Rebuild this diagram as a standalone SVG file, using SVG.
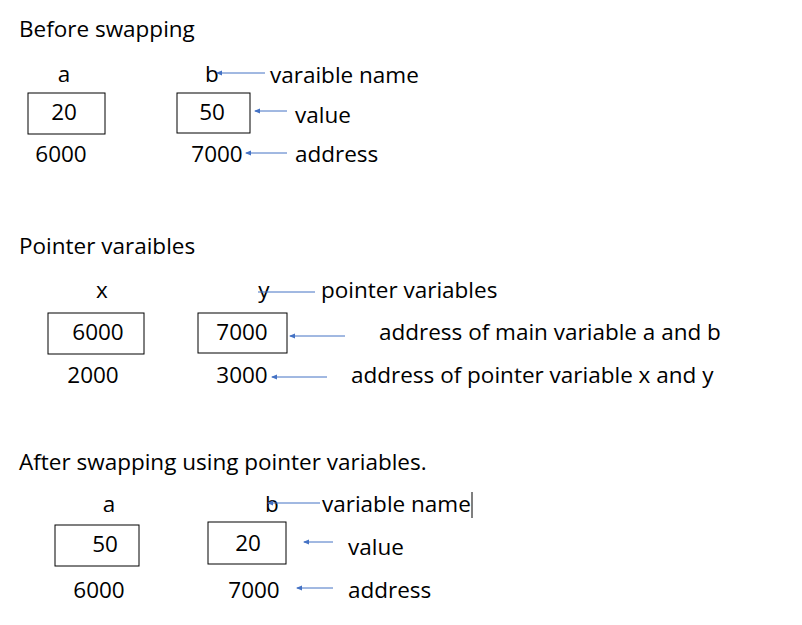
<svg xmlns="http://www.w3.org/2000/svg" width="802" height="625" viewBox="0 0 802 625">
<defs>
<marker id="ah" markerWidth="6" markerHeight="6" refX="5" refY="3" orient="auto" markerUnits="userSpaceOnUse">
<path d="M0,0.5 L6,3 L0,5.5 Z" fill="#4472c4"/>
</marker>
<style>
text{font-family:"Open Sans","Liberation Sans",sans-serif;font-size:22.5px;fill:#000}
.c{text-anchor:middle}
rect{fill:#fff;stroke:#000;stroke-width:1}
.ar line{stroke:#4472c4;stroke-width:1}
</style>
</defs>
<rect x="0" y="0" width="802" height="625" style="stroke:none"/>
<g id="titles">
<text x="19" y="37">Before swapping</text>
<text x="19" y="254">Pointer varaibles</text>
<text x="19" y="470">After swapping using pointer variables.</text>
</g>
<g id="a1"><text class="c" x="64" y="82">a</text><rect x="28" y="93" width="77" height="41"/><text class="c" x="64" y="120">20</text><text class="c" x="61" y="162">6000</text></g>
<g id="b1"><text class="c" x="212" y="82">b</text><rect x="177" y="93" width="73" height="40"/><text class="c" x="212" y="120">50</text><text class="c" x="217" y="162">7000</text></g>
<g id="labels1"><text x="270" y="83">varaible name</text><text x="295" y="123">value</text><text x="295" y="162">address</text></g>
<g id="x"><text class="c" x="102" y="298">x</text><rect x="48" y="313" width="96" height="41"/><text class="c" x="98" y="340">6000</text><text class="c" x="93" y="383">2000</text></g>
<g id="y"><text class="c" x="264" y="298">y</text><rect x="198" y="313" width="89" height="40"/><text class="c" x="242" y="340">7000</text><text class="c" x="242" y="383">3000</text></g>
<g id="labels2"><text x="321" y="298">pointer variables</text><text x="379" y="340">address of main variable a and b</text><text x="351" y="383">address of pointer variable x and y</text></g>
<g id="a2"><text class="c" x="109" y="512">a</text><rect x="55" y="525" width="84" height="41"/><text class="c" x="105" y="552">50</text><text class="c" x="99" y="598">6000</text></g>
<g id="b2"><text class="c" x="272" y="512">b</text><rect x="208" y="522" width="78" height="42"/><text class="c" x="248" y="551">20</text><text class="c" x="254" y="598">7000</text></g>
<g id="labels3"><text x="322" y="512">variable name</text><line x1="472" y1="492" x2="472" y2="518" stroke="#000" stroke-width="1"/><text x="348" y="555">value</text><text x="348" y="598">address</text></g>
<g id="connectors" class="ar">
<line x1="265" y1="73" x2="217" y2="73" marker-end="url(#ah)"/>
<line x1="287" y1="111" x2="255" y2="111" marker-end="url(#ah)"/>
<line x1="287" y1="153" x2="246" y2="153" marker-end="url(#ah)"/>
<line x1="315" y1="292" x2="258" y2="292"/>
<line x1="345" y1="336" x2="290" y2="336" marker-end="url(#ah)"/>
<line x1="327" y1="377" x2="272" y2="377" marker-end="url(#ah)"/>
<line x1="320" y1="503" x2="268" y2="503" marker-end="url(#ah)"/>
<line x1="333" y1="542" x2="304" y2="542" marker-end="url(#ah)"/>
<line x1="333" y1="588" x2="297" y2="588" marker-end="url(#ah)"/>
</g>
</svg>
